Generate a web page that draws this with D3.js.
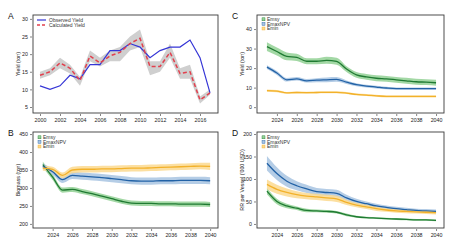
<!DOCTYPE html>
<html><head><meta charset="utf-8">
<script src="https://cdn.jsdelivr.net/npm/d3@7"></script>
<style>body{margin:0;background:#fff}svg{display:block;font-family:"Liberation Sans",Arial,sans-serif}</style>
</head><body><svg id="c" width="450" height="244"></svg>
<script>
// ---- Panel A data ----
const yearsA = d3.range(2000, 2018);
const observedYield = [11,10,11,14,13,17,17,21,21,23,22,19,21,22,22,24,19,9];
const calcYield = [14,15,17.5,16,12.5,19.5,17.5,19.5,20.5,23,24.5,16.5,16.5,20.5,14.5,15,7,9];
const calcLow = [13,14,16,14.5,11,18,16.5,18,18,21,22,14,15,19,13,13,6,8.5];
const calcHigh = [15,16,19,17,13.5,21,19,21,22,25,27,18,18,23,16,17,8,10];
const ticksA = [5,10,15,20,25,30];
const xTicksA = [2000,2002,2004,2006,2008,2010,2012,2014,2016];

// ---- Projection data (2023-2040) ----
const yearsP = d3.range(2023, 2041);
const seriesNames = ["Emsy","EmaxNPV","Emin"];
// Panel B: Biomass
const biomassEmsy = [365,330,294,296,290,284,277,270,263,258,257,257,256,256,255,255,255,254];
const biomassEmsyBand = [8,8,7,7,7,7,7,7,7,7,7,7,7,7,7,7,7,7];
const biomassNPV = [360,345,323,335,333,331,329,326,323,320,319,319,320,320,321,321,321,320];
const biomassNPVBand = [8,8,9,10,10,10,10,10,10,10,10,10,10,10,10,10,10,10];
const biomassEmin = [355,352,335,350,352,352,353,353,354,355,355,356,357,358,359,360,361,360];
const biomassEminBand = [7,7,8,9,9,9,9,9,9,9,9,9,9,9,9,9,9,10];
// Panel C: Yield
const yieldEmsy = [31,28.5,26,25.5,23.5,23.5,24,23.5,19.5,16.5,15.5,14.8,14.5,14,13.5,13,12.8,12.5];
const yieldEmsyBand = [2.2,2,2,1.8,1.5,1.5,1.8,1.8,1.5,1.5,1.5,1.5,1.5,1.5,1.5,1.5,1.5,1.5];
const yieldNPV = [20.5,17.5,14,14.5,13.5,13.8,14,14.2,12.8,11.5,10.8,10.3,9.8,9.5,9.5,9.5,9.5,9.5];
const yieldNPVBand = [1,1,0.9,0.9,0.9,1,1.2,1.2,0.9,0.8,0.7,0.7,0.6,0.6,0.6,0.6,0.6,0.6];
const yieldEmin = [8.5,8.2,7.3,7.5,7.4,7.5,7.6,7.6,7.2,6.5,6.2,5.8,5.5,5.5,5.5,5.5,5.5,5.5];
const yieldEminBand = [0.6,0.6,0.5,0.5,0.5,0.5,0.5,0.5,0.5,0.5,0.5,0.5,0.5,0.5,0.5,0.5,0.5,0.5];
// Panel D: RR per vessel
const rrEmsy = [73,50,40,35,30,29,28,26,20,16,14,13,12,11,10,9,9,8];
const rrEmsyBand = [7,6,5,4,4,3,3,3,3,2,2,2,2,2,2,2,2,2];
const rrNPV = [135,112,95,85,78,72,70,68,58,50,45,40,37,34,32,30,29,28];
const rrNPVBand = [16,14,12,10,9,8,8,8,7,6,5,5,4,4,4,4,4,4];
const rrEmin = [88,77,70,65,62,60,58,56,48,42,38,34,31,29,28,27,26,25];
const rrEminBand = [11,10,9,8,7,7,7,7,6,5,5,5,4,4,4,4,4,4];

const ticksB = [200,250,300,350,400,450];
const ticksC = [0,10,20,30,40];
const ticksD = [0,50,100,150,200];
const xTicksP = [2024,2026,2028,2030,2032,2034,2036,2038,2040];

const lineCol = {Emsy:"#1f7a32", EmaxNPV:"#2262a6", Emin:"#f2b12a"};
const bandCol = {Emsy:"#93d195", EmaxNPV:"#a8c4e2", Emin:"#fcd98f"};

const svg = d3.select("#c");

function panel(o){
  const g = svg.append("g");
  const x = d3.scaleLinear().domain(o.xd).range([o.x0,o.x1]);
  const y = d3.scaleLinear().domain(o.yd).range([o.y1,o.y0]);
  o.draw(g,x,y);
  const ax = g.append("g").attr("transform",`translate(0,${o.y1+1})`)
    .call(d3.axisBottom(x).tickValues(o.xt).tickFormat(d3.format("d")).tickSize(2).tickPadding(2));
  const ay = g.append("g").attr("transform",`translate(${o.x0-1},0)`)
    .call(d3.axisLeft(y).tickValues(o.yt).tickSize(2).tickPadding(2));
  [ax,ay].forEach(a=>{a.select(".domain").remove();a.selectAll("text").attr("font-size",5.3).attr("fill","#222").attr("font-family","Liberation Sans, Arial, sans-serif");a.selectAll("line").attr("stroke","#333").attr("stroke-width",0.6);});
  g.append("rect").attr("x",o.x0).attr("y",o.y0).attr("width",o.x1-o.x0).attr("height",o.y1-o.y0)
    .attr("fill","none").attr("stroke","#3a3a3a").attr("stroke-width",0.9);
  g.append("text").attr("transform",`translate(${o.x0-13},${(o.y0+o.y1)/2}) rotate(-90)`)
    .attr("text-anchor","middle").attr("font-size",5.3).attr("fill","#222").text(o.ylabel);
  g.append("text").attr("x",o.x0-25).attr("y",o.y0+4).attr("font-size",8.5).attr("fill","#111").text(o.letter);
}

function projDraw(vals){
  return (g,x,y)=>{
    seriesNames.forEach((s,i)=>{
      const v=vals[i][0], b=vals[i][1];
      const area=d3.area().x((d,j)=>x(yearsP[j])).y0((d,j)=>y(v[j]-b[j])).y1((d,j)=>y(v[j]+b[j])).curve(d3.curveMonotoneX);
      g.append("path").datum(v).attr("d",area).attr("fill",bandCol[s]).attr("opacity",0.85);
    });
    seriesNames.forEach((s,i)=>{
      const v=vals[i][0];
      const line=d3.line().x((d,j)=>x(yearsP[j])).y(d=>y(d)).curve(d3.curveMonotoneX);
      g.append("path").datum(v).attr("d",line).attr("fill","none").attr("stroke",lineCol[s]).attr("stroke-width",1.3);
    });
  };
}

function projLegend(x0,y0){
  seriesNames.forEach((s,i)=>{
    svg.append("rect").attr("x",x0).attr("y",y0+i*4.6-2.2).attr("width",3).attr("height",3)
      .attr("fill",bandCol[s]).attr("stroke",lineCol[s]).attr("stroke-width",0.4);
    svg.append("text").attr("x",x0+5).attr("y",y0+i*4.6+0.9).attr("font-size",5).attr("fill","#333").text(s);
  });
}

// Panel A
panel({x0:33,x1:218,y0:15,y1:113,xd:[1999.3,2017.8],yd:[3.3,31.1],xt:xTicksA,yt:ticksA,ylabel:"Yield (ton)",letter:"A",
  draw:(g,x,y)=>{
    const area=d3.area().x((d,j)=>x(yearsA[j])).y0((d,j)=>y(calcLow[j])).y1((d,j)=>y(calcHigh[j]));
    g.append("path").datum(calcYield).attr("d",area).attr("fill","#cfcfcf");
    g.append("path").datum(observedYield).attr("d",d3.line().x((d,j)=>x(yearsA[j])).y(d=>y(d)))
      .attr("fill","none").attr("stroke","#3535d6").attr("stroke-width",1.2);
    g.append("path").datum(calcYield).attr("d",d3.line().x((d,j)=>x(yearsA[j])).y(d=>y(d)))
      .attr("fill","none").attr("stroke","#e2404e").attr("stroke-width",1.5).attr("stroke-dasharray","4,2.5");
  }});
svg.append("line").attr("x1",37).attr("x2",46).attr("y1",20).attr("y2",20).attr("stroke","#3535d6").attr("stroke-width",1.2);
svg.append("line").attr("x1",37).attr("x2",46).attr("y1",25).attr("y2",25).attr("stroke","#e2404e").attr("stroke-width",1.3).attr("stroke-dasharray","3,2");
svg.append("text").attr("x",49).attr("y",21.8).attr("font-size",5).attr("fill","#333").text("Observed Yield");
svg.append("text").attr("x",49).attr("y",26.8).attr("font-size",5).attr("fill","#333").text("Calculated Yield");

// Panel C
panel({x0:257,x1:444,y0:15,y1:113,xd:[2022,2040.8],yd:[-3,47.2],xt:xTicksP,yt:ticksC,ylabel:"Yield (ton)",letter:"C",
  draw:projDraw([[yieldEmsy,yieldEmsyBand],[yieldNPV,yieldNPVBand],[yieldEmin,yieldEminBand]])});
projLegend(262,20);

// Panel B
panel({x0:33,x1:218,y0:132,y1:228,xd:[2022,2040.8],yd:[188.6,455.7],xt:xTicksP,yt:ticksB,ylabel:"Biomass (ton)",letter:"B",
  draw:projDraw([[biomassEmsy,biomassEmsyBand],[biomassNPV,biomassNPVBand],[biomassEmin,biomassEminBand]])});
projLegend(38,138);

// Panel D
panel({x0:257,x1:444,y0:132,y1:228,xd:[2022,2040.8],yd:[-9,204.5],xt:xTicksP,yt:ticksD,ylabel:"RR per Vessel ('000 USD)",letter:"D",
  draw:projDraw([[rrEmsy,rrEmsyBand],[rrNPV,rrNPVBand],[rrEmin,rrEminBand]])});
projLegend(262,138);
</script></body></html>
